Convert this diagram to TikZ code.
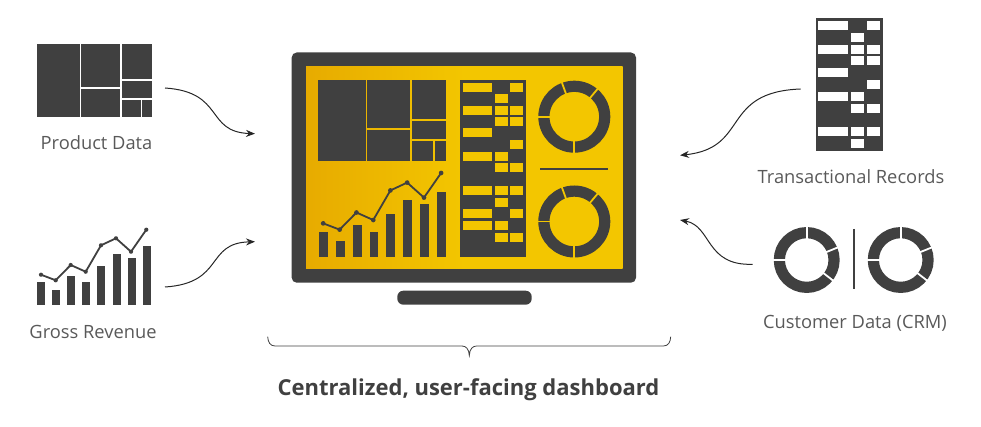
\documentclass[tikz,border=0pt]{standalone}
\usepackage{fontspec}
\setmainfont{Open Sans}
\usetikzlibrary{arrows.meta}
\definecolor{slatedark}{HTML}{404040}
\definecolor{labelgray}{HTML}{595959}
\definecolor{dashgold}{HTML}{F3C600}
\definecolor{dashamber}{HTML}{E7AB00}

\tikzset{
  iconfill/.style={fill=slatedark, draw=none},
  sourcelabel/.style={font=\fontsize{18.3}{21}\selectfont, text=labelgray, inner sep=0pt},
  flowarrow/.style={black!85, line width=1pt, -{Stealth[length=9pt,width=7pt]}},
  pics/treemap/.style={code={
    \fill[iconfill] (0,0) rectangle (43,73);
    \fill[iconfill] (44.3,0) rectangle (83,43);
    \fill[iconfill] (44.3,45) rectangle (83,73);
    \fill[iconfill] (84.7,0) rectangle (115,34.7);
    \fill[iconfill] (84.7,36.7) rectangle (115,53.4);
    \fill[iconfill] (84.7,55.4) rectangle (103.7,73);
    \fill[iconfill] (105.3,55.4) rectangle (115,73);
  }},
  pics/revenuechart/.style={code={
    \foreach \i/\h in {0/23,1/14.7,2/28.7,3/23,4/38.7,5/51.3,6/47.3,7/58.7} {
      \fill[iconfill] (\i*15.12,0) rectangle (\i*15.12+8,-\h);
    }
    \draw[slatedark, line width=1.8pt] (4,-30.3) -- (18.7,-24.7) -- (33.7,-40) -- (48.7,-33.3)
      -- (64,-59.7) -- (79,-66.7) -- (94,-53.3) -- (109.3,-75.3);
    \foreach \x/\y in {4/30.3,18.7/24.7,33.7/40,48.7/33.3,64/59.7,79/66.7,94/53.3,109.3/75.3} {
      \fill[slatedark] (\x,-\y) circle (2.1);
    }
  }},
  pics/recordtable/.style={code={
    \fill[iconfill] (0,0) rectangle (65.3,176.7);
    \foreach \y in {2.7,25.7,48.3,72,106.3,129.3,141.3} {
      \fill[#1] (2.7,\y) rectangle (31.7,\y+9);
    }
    \foreach \y in {14,25.7,37,72,83.3,106.3,117.7,141.3,152.7} {
      \fill[#1] (34.3,\y) rectangle (47.3,\y+9);
    }
    \foreach \y in {2.7,25.7,37,60,83.3,106.3,129.3,152.7} {
      \fill[#1] (49.7,\y) rectangle (62.7,\y+9);
    }
  }},
  pics/donut/.style 2 args={code={
    \draw[slatedark, line width=11.2pt] (0,0) circle (30.4);
    \foreach \a in {#2} {
      \draw[#1, line width=1.8pt] (\a:23) -- (\a:38);
    }
  }}
}

\begin{document}
\begin{tikzpicture}[x=1pt,y=-1pt]
  \useasboundingbox (0,0) rectangle (981,427);

  % Monitor
  \fill[slatedark, rounded corners=5pt] (291.7,52.5) rectangle (636,282.7);
  \fill[left color=dashamber, right color=dashgold, middle color=dashgold] (306,66.7) rectangle (622.7,268.3);
  \fill[slatedark, rounded corners=6pt] (397.3,290.7) rectangle (531.7,304.7);

  % Screen contents
  \pic[scale=1.11] at (318,80) {treemap};
  \pic[scale=1.12] at (318.7,257.3) {revenuechart};
  \pic at (460.3,80) {recordtable=dashgold};
  \pic at (574.3,116.7) {donut={dashgold}{90,180,250,310}};
  \pic at (574.3,221.5) {donut={dashgold}{90,180,250,310}};
  \draw[slatedark, line width=1.7pt] (540,168.7) -- (608,168.7);

  % Product data
  \pic at (37,44.3) {treemap};
  \node[sourcelabel] (productlabel) at (96.5,142.5) {Product Data};

  % Gross revenue
  \pic at (37,305) {revenuechart};
  \node[sourcelabel] (revenuelabel) at (93,332) {Gross Revenue};

  % Transactional records
  \begin{scope}
    \clip (810,15) rectangle (890,151);
    \pic[scale=1.025] at (815.7,18.3) {recordtable=white};
  \end{scope}
  \node[sourcelabel] (recordslabel) at (851,176.5) {Transactional Records};

  % Customer data
  \pic[scale=0.9] at (806.7,260) {donut={white}{-90,180,-22,38}};
  \pic[scale=0.9] at (900.7,260) {donut={white}{-90,180,-22,38}};
  \draw[slatedark, line width=1.5pt] (854,229) -- (854,289.3);
  \node[sourcelabel] (customerlabel) at (855,323) {Customer Data (CRM)};

  % Flows into the dashboard
  \coordinate (productout) at (165,88);
  \coordinate (revenueout) at (165,287);
  \coordinate (recordsout) at (800.7,89);
  \coordinate (customerout) at (752.7,264.3);
  \coordinate (screenNW) at (255,133.7);
  \coordinate (screenSW) at (255,241.7);
  \coordinate (screenNE) at (680,155.3);
  \coordinate (screenSE) at (680,220);
  \draw[flowarrow] (productout) .. controls (225,92) and (205,132) .. (screenNW);
  \draw[flowarrow] (revenueout) .. controls (225,283) and (205,243) .. (screenSW);
  \draw[flowarrow] (recordsout) .. controls (720,92) and (750,148) .. (screenNE);
  \draw[flowarrow] (customerout) .. controls (705,266) and (712,226) .. (screenSE);

  % Brace and title
  \coordinate (braceleft) at (267.7,336.7);
  \coordinate (bracetip) at (469.3,355.5);
  \coordinate (braceright) at (670.7,336.7);
  \draw[slatedark, line width=0.8pt] (braceleft) .. controls (268,342) and (270,346) .. (275,346)
    -- (462,346) .. controls (466,346) and (469,349) .. (bracetip)
    .. controls (469.6,349) and (472.6,346) .. (476.6,346) -- (663.4,346)
    .. controls (668.4,346) and (670.4,342) .. (braceright);
  \node[font=\fontsize{22}{25}\selectfont\bfseries, text=slatedark, inner sep=0pt] (dashtitle) at (468.5,390)
    {Centralized, user-facing dashboard};
\end{tikzpicture}
\end{document}
